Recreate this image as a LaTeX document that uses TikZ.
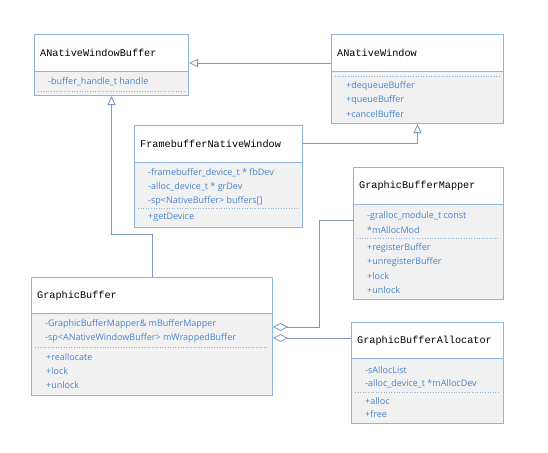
\documentclass[tikz,border=0pt]{standalone}
\usepackage{fontspec}
\newfontfamily\titlefont{Liberation Mono}
\newfontfamily\memberfont{Open Sans}
\usetikzlibrary{arrows.meta}
\usetikzlibrary{calc}

\definecolor{umlborder}{RGB}{141,180,222}
\definecolor{umltext}{RGB}{72,132,202}
\definecolor{umlfill}{RGB}{241,241,241}
\definecolor{umlline}{RGB}{122,152,192}

\begin{document}
\begin{tikzpicture}[x=1pt,y=-1pt,
    classbox/.style={draw=umlborder, fill=umlfill, line width=1pt, anchor=north west, inner sep=0pt},
    classtitle/.style={draw=umlborder, fill=white, line width=1pt, anchor=north west, inner sep=0pt, minimum height=37pt},
    titletext/.style={anchor=west, inner sep=0pt, font=\titlefont\fontsize{10.2}{12}\selectfont},
    member/.style={anchor=west, inner sep=0pt, text=umltext, font=\memberfont\fontsize{9}{11}\selectfont},
    sepline/.style={draw=umlborder, dotted, line width=0.6pt},
    inherit/.style={draw=umlline, line width=0.8pt, -{Triangle[open, length=9pt, width=8pt]}},
    aggr/.style={draw=umlline, line width=0.8pt, -{Diamond[open, length=15pt, width=8pt]}}]
            \useasboundingbox (0,0) rectangle (548,452);

            % ANativeWindowBuffer
            \node[classbox, minimum width=154pt, minimum height=61pt] (anwb) at (34,34) {};
            \node[classtitle, minimum width=154pt] (anwb-t) at (anwb.north west) {};
            \node[titletext] (anwb-n) at ($(anwb-t.west)+(6,0)$) {ANativeWindowBuffer};
            \node[member] (anwb-a1) at (48,82) {-buffer\_handle\_t handle};
            \draw[sepline] (38,91) -- (184,91);

            % ANativeWindow
            \node[classbox, minimum width=172pt, minimum height=89pt] (anw) at (331,34) {};
            \node[classtitle, minimum width=172pt] (anw-t) at (anw.north west) {};
            \node[titletext] (anw-n) at ($(anw-t.west)+(6,0)$) {ANativeWindow};
            \draw[sepline] (335,76) -- (499,76);
            \node[member] (anw-m1) at (346,86) {+dequeueBuffer};
            \node[member] (anw-m2) at (346,100) {+queueBuffer};
            \node[member] (anw-m3) at (346,114) {+cancelBuffer};

            % FramebufferNativeWindow
            \node[classbox, minimum width=168pt, minimum height=102pt] (fnw) at (134,125) {};
            \node[classtitle, minimum width=168pt] (fnw-t) at (fnw.north west) {};
            \node[titletext] (fnw-n) at ($(fnw-t.west)+(6,0)$) {FramebufferNativeWindow};
            \node[member] (fnw-a1) at (148,173) {-framebuffer\_device\_t * fbDev};
            \node[member] (fnw-a2) at (148,187) {-alloc\_device\_t * grDev};
            \node[member] (fnw-a3) at (148,201) {-sp<NativeBuffer> buffers[]};
            \draw[sepline] (138,208) -- (298,208);
            \node[member] (fnw-m1) at (148,217) {+getDevice};

            % GraphicBufferMapper
            \node[classbox, minimum width=150pt, minimum height=132pt] (gbm) at (353,167) {};
            \node[classtitle, minimum width=150pt] (gbm-t) at (gbm.north west) {};
            \node[titletext] (gbm-n) at ($(gbm-t.west)+(6,0)$) {GraphicBufferMapper};
            \node[member] (gbm-a1) at (367,216) {-gralloc\_module\_t const};
            \node[member] (gbm-a2) at (367,230) {*mAllocMod};
            \draw[sepline] (357,238) -- (499,238);
            \node[member] (gbm-m1) at (367,248) {+registerBuffer};
            \node[member] (gbm-m2) at (367,262) {+unregisterBuffer};
            \node[member] (gbm-m3) at (367,276) {+lock};
            \node[member] (gbm-m4) at (367,290) {+unlock};

            % GraphicBuffer
            \node[classbox, minimum width=241pt, minimum height=118pt] (gb) at (31,277) {};
            \node[classtitle, minimum width=241pt, minimum height=36pt] (gb-t) at (gb.north west) {};
            \node[titletext] (gb-n) at ($(gb-t.west)+(6,0)$) {GraphicBuffer};
            \node[member] (gb-a1) at (45,324) {-GraphicBufferMapper\& mBufferMapper};
            \node[member] (gb-a2) at (45,338) {-sp<ANativeWindowBuffer> mWrappedBuffer};
            \draw[sepline] (35,347) -- (268,347);
            \node[member] (gb-m1) at (46,357) {+reallocate};
            \node[member] (gb-m2) at (46,371) {+lock};
            \node[member] (gb-m3) at (46,385) {+unlock};

            % GraphicBufferAllocator
            \node[classbox, minimum width=152pt, minimum height=101pt] (gba) at (351,322) {};
            \node[classtitle, minimum width=152pt, minimum height=36pt] (gba-t) at (gba.north west) {};
            \node[titletext] (gba-n) at ($(gba-t.west)+(6,0)$) {GraphicBufferAllocator};
            \node[member] (gba-a1) at (365,370) {-sAllocList};
            \node[member] (gba-a2) at (365,384) {-alloc\_device\_t *mAllocDev};
            \draw[sepline] (355,392) -- (499,392);
            \node[member] (gba-m1) at (365,401) {+alloc};
            \node[member] (gba-m2) at (365,414) {+free};

            % connectors
            \draw[inherit] (gb.north) -- ++(0,-43) -| (anwb.south);
            \draw[inherit] ($(anw.north west)+(0,29)$) -- ($(anwb.north east)+(0,29)$);
            \draw[inherit] ($(fnw.north east)+(0,18)$) -| (anw.south);
            \draw[aggr] ($(gbm.north west)+(0,53)$) -- ++(-34,0) |- ($(gb.north east)+(0,50)$);
            \draw[aggr] ($(gba.north west)+(0,16)$) -- ($(gb.north east)+(0,61)$);
        \end{tikzpicture}
\end{document}
